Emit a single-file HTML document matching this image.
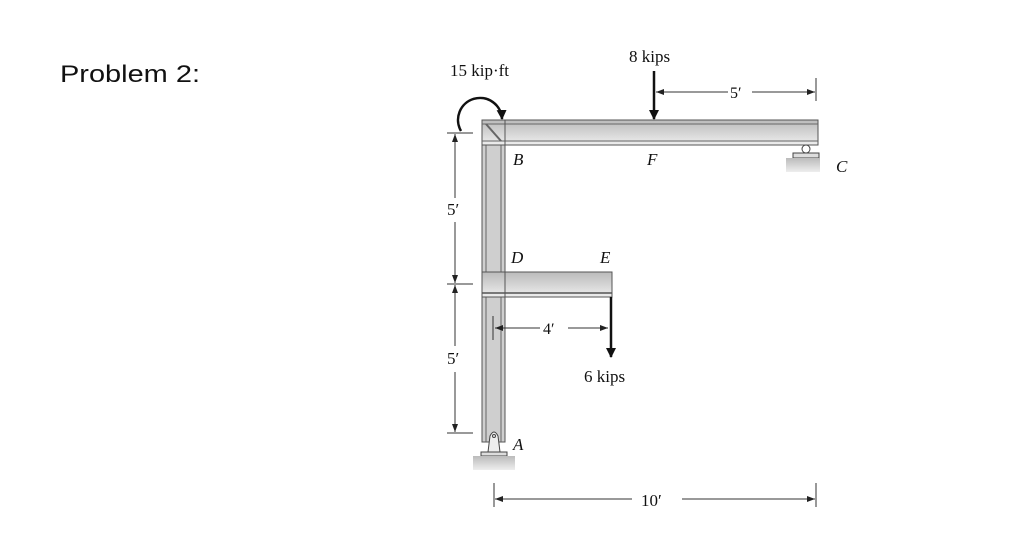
<!DOCTYPE html>
<html><head><style>
body{margin:0;width:1024px;height:532px;background:#fff;overflow:hidden}
</style></head><body>
<svg width="1024" height="532" viewBox="0 0 1024 532" xmlns="http://www.w3.org/2000/svg" font-family="Liberation Serif, serif">
<defs>
<linearGradient id="g" x1="0" y1="0" x2="0" y2="1">
<stop offset="0" stop-color="#bbb"/><stop offset="1" stop-color="#eee"/></linearGradient>
<marker id="a" markerWidth="10" markerHeight="10" refX="9" refY="5" orient="auto" markerUnits="userSpaceOnUse"><path d="M0,0 L10,5 L0,10z" fill="#111"/></marker>
<marker id="s" markerWidth="8" markerHeight="6" refX="8" refY="3" orient="auto" markerUnits="userSpaceOnUse"><path d="M0,0 L8,3 L0,6z" fill="#222"/></marker>
</defs>
<text x="60" y="82" font-family="Liberation Sans, sans-serif" font-size="24" fill="#111" textLength="140" lengthAdjust="spacingAndGlyphs">Problem 2:</text>
<rect x="482" y="120" width="23" height="322" fill="#cfcfcf" stroke="#555" stroke-width="1"/>
<line x1="486" y1="120" x2="486" y2="442" stroke="#666"/>
<line x1="501" y1="120" x2="501" y2="442" stroke="#666"/>
<rect x="482" y="120" width="336" height="25" fill="url(#g)" stroke="#555"/>
<line x1="482" y1="124" x2="818" y2="124" stroke="#666"/>
<line x1="482" y1="141" x2="818" y2="141" stroke="#666"/>
<line x1="486" y1="124" x2="501" y2="141" stroke="#666" stroke-width="2"/>
<line x1="505" y1="120" x2="505" y2="145" stroke="#555"/>
<rect x="482" y="272" width="130" height="25" fill="url(#g)" stroke="#555"/>
<line x1="482" y1="293" x2="612" y2="293" stroke="#555" stroke-width="1.5"/>
<line x1="505" y1="272" x2="505" y2="297" stroke="#555"/>
<path d="M488,452 L490,436 Q494,428 498,436 L500,452z" fill="#eee" stroke="#444"/>
<circle cx="494" cy="436" r="1.5" fill="none" stroke="#444"/>
<rect x="481" y="452" width="26" height="4" fill="#ddd" stroke="#444"/>
<rect x="473" y="456" width="42" height="14" fill="url(#g)"/>
<circle cx="806" cy="149" r="4" fill="#fff" stroke="#444"/>
<rect x="793" y="153" width="26" height="5" fill="#ddd" stroke="#444"/>
<rect x="786" y="158" width="34" height="14" fill="url(#g)"/>
<line x1="654" y1="71" x2="654" y2="119" stroke="#111" stroke-width="2.5" marker-end="url(#a)"/>
<line x1="611" y1="297" x2="611" y2="357" stroke="#111" stroke-width="2.5" marker-end="url(#a)"/>
<path d="M461,131 A22,22 0 1 1 502,119" fill="none" stroke="#111" stroke-width="2.5" marker-end="url(#a)"/>
<g stroke="#333" stroke-width="1" fill="none">
<line x1="447" y1="133" x2="473" y2="133"/><line x1="447" y1="284" x2="473" y2="284"/><line x1="447" y1="433" x2="473" y2="433"/>
<line x1="455" y1="198" x2="455" y2="134" marker-end="url(#s)"/>
<line x1="455" y1="222" x2="455" y2="283" marker-end="url(#s)"/>
<line x1="455" y1="346" x2="455" y2="285" marker-end="url(#s)"/>
<line x1="455" y1="372" x2="455" y2="432" marker-end="url(#s)"/>
<line x1="816" y1="78" x2="816" y2="101"/>
<line x1="728" y1="92" x2="656" y2="92" marker-end="url(#s)"/>
<line x1="752" y1="92" x2="815" y2="92" marker-end="url(#s)"/>
<line x1="493" y1="316" x2="493" y2="340"/>
<line x1="540" y1="328" x2="495" y2="328" marker-end="url(#s)"/>
<line x1="568" y1="328" x2="608" y2="328" marker-end="url(#s)"/>
<line x1="494" y1="483" x2="494" y2="507"/><line x1="816" y1="483" x2="816" y2="507"/>
<line x1="632" y1="499" x2="495" y2="499" marker-end="url(#s)"/>
<line x1="682" y1="499" x2="815" y2="499" marker-end="url(#s)"/>
</g>
<g font-size="17" fill="#111">
<text x="450" y="76">15 kip·ft</text>
<text x="629" y="62">8 kips</text>
<text x="730" y="98" font-size="16">5′</text>
<text x="584" y="382">6 kips</text>
<text x="543" y="334" font-size="16">4′</text>
<text x="641" y="506">10′</text>
<text x="447" y="215">5′</text>
<text x="447" y="364">5′</text>
<g font-style="italic">
<text x="513" y="165">B</text>
<text x="647" y="165">F</text>
<text x="836" y="172">C</text>
<text x="511" y="263">D</text>
<text x="600" y="263">E</text>
<text x="513" y="450">A</text>
</g></g>
</svg>
</body></html>
